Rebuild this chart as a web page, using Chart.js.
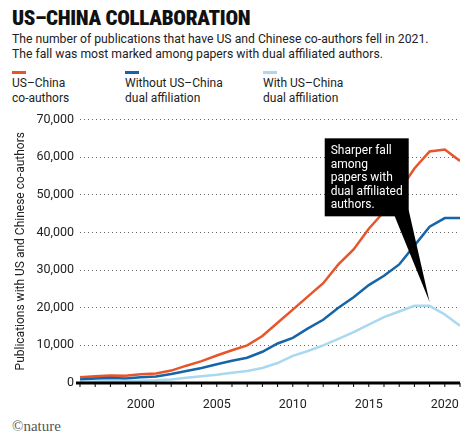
<!DOCTYPE html><html><head><meta charset="utf-8">
<script src="https://cdn.jsdelivr.net/npm/chart.js@4"></script>
<style>
body{margin:0;width:474px;height:440px;background:#fff;font-family:Roboto,"Noto Sans",sans-serif;position:relative;overflow:hidden}
#t{position:absolute;left:12px;top:6px;font-size:21px;font-weight:900;letter-spacing:-0.3px;color:#111;font-family:"Roboto Condensed",Roboto,sans-serif}
#s{position:absolute;left:12px;top:32px;font-size:12.2px;line-height:15px;color:#222}
.lg{position:absolute;top:71px;font-size:12px;line-height:15px;color:#222}
.lg i{display:block;width:14px;height:3px;margin-bottom:2px}
#c{position:absolute;left:0;top:106px}
#n{position:absolute;left:12px;top:418px;font-size:15px;color:#555;font-family:Georgia,serif}
</style></head><body>
<div id="t">US–CHINA COLLABORATION</div>
<div id="s">The number of publications that have US and Chinese co-authors fell in 2021.<br>The fall was most marked among papers with dual affiliated authors.</div>
<div class="lg" style="left:12px"><i style="background:#e8552a"></i>US–China<br>co-authors</div>
<div class="lg" style="left:125px"><i style="background:#1565a8"></i>Without US–China<br>dual affiliation</div>
<div class="lg" style="left:263px"><i style="background:#a9d8ef"></i>With US–China<br>dual affiliation</div>
<canvas id="c" width="474" height="312"></canvas>
<div id="n">©nature</div>
<script>
const years=[1996,1997,1998,1999,2000,2001,2002,2003,2004,2005,2006,2007,2008,2009,2010,2011,2012,2013,2014,2015,2016,2017,2018,2019,2020,2021];
const usChina=[1500,1800,2000,1900,2300,2500,3300,4600,5800,7300,8700,10000,12500,16000,19500,23000,26500,31500,35500,41000,45500,51000,57000,61500,62000,59000];
const without=[900,1200,1300,1200,1500,1700,2400,3200,4000,5000,5900,6700,8300,10500,12000,14500,16800,20000,22800,26000,28500,31500,36500,41500,43800,43800];
const withDual=[300,400,500,500,600,700,900,1400,1800,2200,2700,3200,4000,5300,7200,8500,10000,11700,13500,15500,17500,19000,20500,20500,18200,15200];
const xTicks=[2000,2005,2010,2015,2020];
const note=["Sharper fall","among","papers with","dual affiliated","authors."];
const pts=a=>years.map((y,i)=>({x:y,y:a[i]}));
const ann={id:'ann',afterDatasetsDraw(ch){const c=ch.ctx,x=ch.scales.x,y=ch.scales.y;
 const bx=x.getPixelForValue(2012.1),by=y.getPixelForValue(65000),bw=84,bh=78;
 const tx=x.getPixelForValue(2019),ty=y.getPixelForValue(21500);
 c.save();c.fillStyle='#000';c.beginPath();c.moveTo(bx+bw-14,by+bh);c.lineTo(bx+bw,by+bh-6);c.lineTo(tx,ty);c.closePath();c.fill();
 c.fillRect(bx,by,bw,bh);c.fillStyle='#fff';c.font='12px Roboto';c.textBaseline='top';
 note.forEach((s,i)=>c.fillText(s,bx+6,by+7+i*13.5));
 c.strokeStyle='#000';c.lineWidth=1;const y0=y.getPixelForValue(0);
 years.forEach(v=>{const p=x.getPixelForValue(v);c.beginPath();c.moveTo(p,y0);c.lineTo(p,y0+4);c.stroke();});
 c.lineWidth=3;c.beginPath();c.moveTo(x.left-4,y0);c.lineTo(x.right,y0);c.stroke();c.restore();}};
const ds=(d,col)=>({data:pts(d),borderColor:col,borderWidth:2.5,pointRadius:0,tension:0});
new Chart(document.getElementById('c'),{type:'line',data:{datasets:[ds(withDual,'#a9d8ef'),ds(without,'#1565a8'),ds(usChina,'#e8552a')]},
options:{responsive:false,animation:false,layout:{padding:{right:14,top:8,left:12}},plugins:{legend:{display:false},tooltip:{enabled:false}},
scales:{x:{type:'linear',min:1996,max:2021,afterBuildTicks:s=>{s.ticks=xTicks.map(v=>({value:v}))},grid:{display:false},border:{display:false},
 ticks:{color:'#222',font:{size:12.5,family:'Roboto'},callback:v=>String(v),padding:6}},
 y:{min:0,max:70000,ticks:{stepSize:10000,color:'#222',font:{size:12.5,family:'Roboto'},callback:v=>v.toLocaleString('en-US'),padding:6},
 grid:{color:'#666',lineWidth:1,drawTicks:false},border:{display:false,dash:[1,3]},
 title:{display:true,text:'Publications with US and Chinese co-authors',color:'#222',font:{size:12,family:'Roboto'},padding:2}}}},
plugins:[ann]});
</script></body></html>
